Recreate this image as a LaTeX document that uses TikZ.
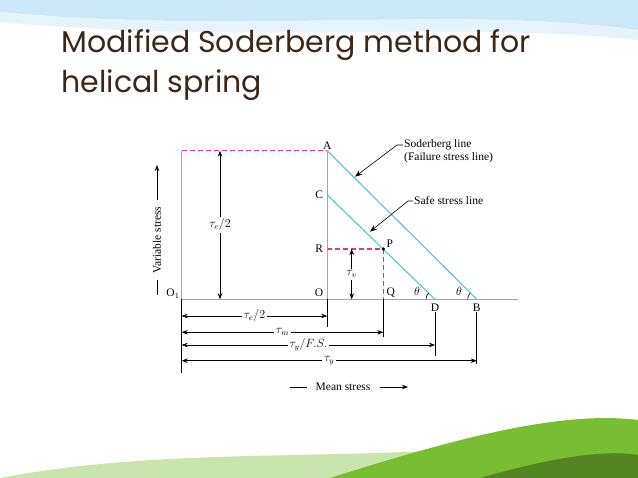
\documentclass[tikz,border=0pt]{standalone}
\usepackage{fontspec}
\setmainfont{Liberation Serif}
\newfontfamily\titlefont{Poppins}
\usetikzlibrary{arrows.meta, positioning}
\definecolor{cyanline}{RGB}{80,200,215}
\definecolor{dashpink}{RGB}{225,50,130}
\definecolor{titlebrown}{RGB}{60,40,25}
\definecolor{leafgreen}{RGB}{120,190,50}
\definecolor{skyblue}{RGB}{170,215,240}

\begin{document}
\begin{tikzpicture}[x=1pt, y=-1pt,
    line/.style={cyanline, line width=1.1pt},
    dashline/.style={dashpink, dash pattern=on 5pt off 3pt, line width=1.2pt},
    dim/.style={{Stealth[length=6pt]}-{Stealth[length=6pt]}, line width=0.6pt},
    ext/.style={line width=0.6pt},
    lbl/.style={font=\fontsize{11.5}{13}\selectfont, inner sep=1pt},
    title/.style={font=\titlefont\fontsize{30}{34}\selectfont, text=titlebrown, anchor=west}
]
    % Slide background
    \useasboundingbox (0,0) rectangle (638,478);
    \fill[white] (0,0) rectangle (638,478);
    \fill[skyblue!60] (0,0) -- (638,0) -- (638,30) .. controls (450,5) and (250,35) .. (0,12) -- cycle;
    \fill[skyblue!30] (0,12) .. controls (250,35) and (450,5) .. (638,30) -- (638,40) .. controls (450,20) and (250,45) .. (0,22) -- cycle;
    \fill[leafgreen!40] (0,478) .. controls (200,440) and (400,470) .. (638,430) -- (638,478) -- cycle;
    \fill[leafgreen] (330,478) .. controls (450,440) and (560,410) .. (638,420) -- (638,478) -- cycle;
    \fill[leafgreen!70!black] (480,478) .. controls (560,455) and (610,450) .. (638,455) -- (638,478) -- cycle;

    % Title
    \node[title] (t1) at (58,45) {Modified Soderberg method for};
    \node[title] (t2) at (58,85) {helical spring};

    % Picture panel
    \fill[white] (132,128) rectangle (516,394);

    % Points
    \coordinate (O1) at (181.7,299.3);
    \coordinate (A) at (327.3,150.7);
    \coordinate (O) at (327.3,299.3);
    \coordinate (C) at (327.3,195);
    \coordinate (R) at (327.3,249);
    \coordinate (P) at (383.3,249);
    \coordinate (Q) at (383.3,299.3);
    \coordinate (D) at (435,299.3);
    \coordinate (B) at (476.7,299.3);
    \coordinate (Aleft) at (181.7,150.7);
    \coordinate (axend) at (518,299.3);

    % Lines
    \draw[dashline] (Aleft) -- (A);
    \draw[dashline] (R) -- (P);
    \draw[dashline] (P) -- (Q);
    \draw[line] (Aleft) -- (O1) -- (axend);
    \draw[line] (A) -- (O);
    \draw[line] (A) -- (B);
    \draw[line] (C) -- (D);
    \fill (P) circle (1.8pt);

    % Theta arcs
    \draw[ext] ([xshift=-9pt]D) arc[start angle=180, end angle=136, radius=9pt];
    \draw[ext] ([xshift=-9pt]B) arc[start angle=180, end angle=136, radius=9pt];

    % Point labels
    \node[lbl, above=0pt of A] (lA) {A};
    \node[lbl, left=3pt of C] (lC) {C};
    \node[lbl, left=3pt of R] (lR) {R};
    \node[lbl, above right=0pt and 2pt of P] (lP) {P};
    \node[lbl, above left=1pt and 3pt of O] (lO) {O};
    \node[lbl, above right=1pt and 2pt of Q] (lQ) {Q};
    \node[lbl, below=3pt of D] (lD) {D};
    \node[lbl, below=3pt of B] (lB) {B};
    \node[lbl, above left=0pt and 1pt of O1] (lO1) {O$_1$};
    \node[lbl] (th1) at (417,291) {$\theta$};
    \node[lbl] (th2) at (459,291) {$\theta$};

    % Vertical dimensions
    \draw[dim] (220,150.7) -- node[lbl, fill=white, inner sep=2pt] (te) {$\tau_e/2$} (220,299.3);
    \draw[dim] (351.7,249) -- node[lbl, fill=white, inner sep=2pt] (tv) {$\tau_v$} (351.7,299.3);

    % Extension lines
    \draw[ext] (O1) -- (181.7,373);
    \draw[ext] (O) -- (327.3,326.7);
    \draw[ext] (Q) -- (383.3,336.7);
    \draw[ext] (lD.south) -- (435,356);
    \draw[ext] (lB.south) -- (476.7,364);

    % Horizontal dimensions
    \draw[dim] (181.7,316) -- node[lbl, fill=white, inner sep=2pt] (d1) {$\tau_e/2$} (327.3,316);
    \draw[dim] (181.7,332.3) -- node[lbl, fill=white, inner sep=2pt] (d2) {$\tau_m$} (383.3,332.3);
    \draw[dim] (181.7,345) -- node[lbl, fill=white, inner sep=2pt] (d3) {$\tau_y/F.S.$} (435,345);
    \draw[dim] (181.7,360.7) -- node[lbl, fill=white, inner sep=2pt] (d4) {$\tau_y$} (476.7,360.7);

    % Axis labels
    \node[lbl, rotate=90] (vs) at (157,240) {Variable stress};
    \draw[ext] (157,295) -- (157,280);
    \draw[ext, -{Stealth[length=6pt]}] (157,200) -- (157,165);
    \node[lbl] (ms) at (343,387) {Mean stress};
    \draw[ext] (290,387) -- (307,387);
    \draw[ext, -{Stealth[length=6pt]}] (380,387) -- (408,387);

    % Line callouts
    \node[lbl, align=left, anchor=west] (sod) at (403,151.5) {Soderberg line\\(Failure stress line)};
    \node[lbl, anchor=west] (safe) at (413,201) {Safe stress line};
    \draw[ext, -{Stealth[length=7pt]}] (sod.west |- 0,145) -- (397,145) -- (355,176.7);
    \draw[ext, -{Stealth[length=7pt]}] (safe.west) -- (408,201) -- (370,231.7);
\end{tikzpicture}
\end{document}
